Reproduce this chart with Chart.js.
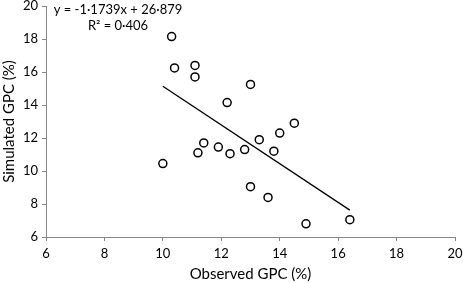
<!DOCTYPE html>
<html>
<head>
<meta charset="utf-8">
<script src="https://cdn.jsdelivr.net/npm/chart.js@4"></script>
<style>
  html, body { margin: 0; padding: 0; background: #fff; }
  #wrap { width: 463px; height: 283px; }
</style>
</head>
<body>
<div id="wrap"><canvas id="chart"></canvas></div>
<script>
// ===============================
// DATA
// ===============================
const observedGPC  = [10.0, 10.3, 10.4, 11.1, 11.1, 11.2, 11.4, 11.9, 12.2, 12.3, 12.8, 13.0, 13.0, 13.3, 13.6, 13.8, 14.0, 14.5, 14.9, 16.4];
const simulatedGPC = [10.45, 18.15, 16.25, 16.4, 15.7, 11.1, 11.7, 11.45, 14.15, 11.05, 11.3, 15.25, 9.05, 11.9, 8.4, 11.2, 12.3, 12.9, 6.8, 7.05];

// trend line ends (x range of the data)
const trendX = [10.0, 16.4];
const trendY = [15.14, 7.63];

const xTicks = [6, 8, 10, 12, 14, 16, 18, 20];
const yTicks = [6, 8, 10, 12, 14, 16, 18, 20];

const equationLine = "y = -1\u00b71739x + 26\u00b7879";
const r2Line = "R\u00b2 = 0\u00b7406";

// ===============================
// HELPERS
// ===============================
const FONT = "Lato, 'Open Sans', sans-serif";
const AXIS_GREY = "#868686";

const points = observedGPC.map((x, i) => ({ x, y: simulatedGPC[i] }));
const trend = trendX.map((x, i) => ({ x, y: trendY[i] }));

const equationText = {
  id: "equationText",
  afterDraw(chart) {
    const { ctx } = chart;
    ctx.save();
    ctx.font = "13px " + FONT;
    ctx.fillStyle = "#000";
    ctx.textAlign = "center";
    ctx.textBaseline = "middle";
    ctx.fillText(equationLine, 118, 10);
    ctx.fillText(r2Line, 118, 26);
    ctx.restore();
  }
};

// ===============================
// CHART
// ===============================
new Chart(document.getElementById("chart"), {
  type: "scatter",
  data: {
    datasets: [
      {
        data: points,
        pointStyle: "circle",
        pointRadius: 4,
        pointBorderWidth: 1.5,
        pointBorderColor: "#000",
        pointBackgroundColor: "#fff",
        showLine: false
      },
      {
        data: trend,
        showLine: true,
        borderColor: "#000",
        borderWidth: 1.3,
        pointRadius: 0
      }
    ]
  },
  options: {
    responsive: true,
    maintainAspectRatio: false,
    animation: false,
    layout: { padding: { top: 6, right: 8, left: 0, bottom: 0 } },
    plugins: {
      legend: { display: false },
      tooltip: { enabled: false }
    },
    scales: {
      x: {
        type: "linear",
        min: 6,
        max: 20,
        afterBuildTicks: s => { s.ticks = xTicks.map(v => ({ value: v })); },
        afterFit: s => { s.height = 46; s.paddingRight = 0; s.paddingLeft = 0; },
        ticks: { color: "#000", font: { family: FONT, size: 13 }, padding: 5, maxRotation: 0 },
        grid: { drawOnChartArea: false, tickLength: 4, color: AXIS_GREY },
        border: { color: AXIS_GREY, width: 1 },
        title: {
          display: true,
          text: "Observed GPC (%)",
          color: "#000",
          font: { family: FONT, size: 15 },
          padding: { top: 4, bottom: 0 }
        }
      },
      y: {
        type: "linear",
        min: 6,
        max: 20,
        afterBuildTicks: s => { s.ticks = yTicks.map(v => ({ value: v })); },
        afterFit: s => { s.width = 46; s.paddingTop = 0; s.paddingBottom = 0; },
        ticks: { color: "#000", font: { family: FONT, size: 13 }, padding: 4 },
        grid: { drawOnChartArea: false, tickLength: 4, color: AXIS_GREY },
        border: { color: AXIS_GREY, width: 1 },
        title: {
          display: true,
          text: "Simulated GPC (%)",
          color: "#000",
          font: { family: FONT, size: 15 },
          padding: { top: 0, bottom: 2 }
        }
      }
    }
  },
  plugins: [equationText]
});
</script>
</body>
</html>
